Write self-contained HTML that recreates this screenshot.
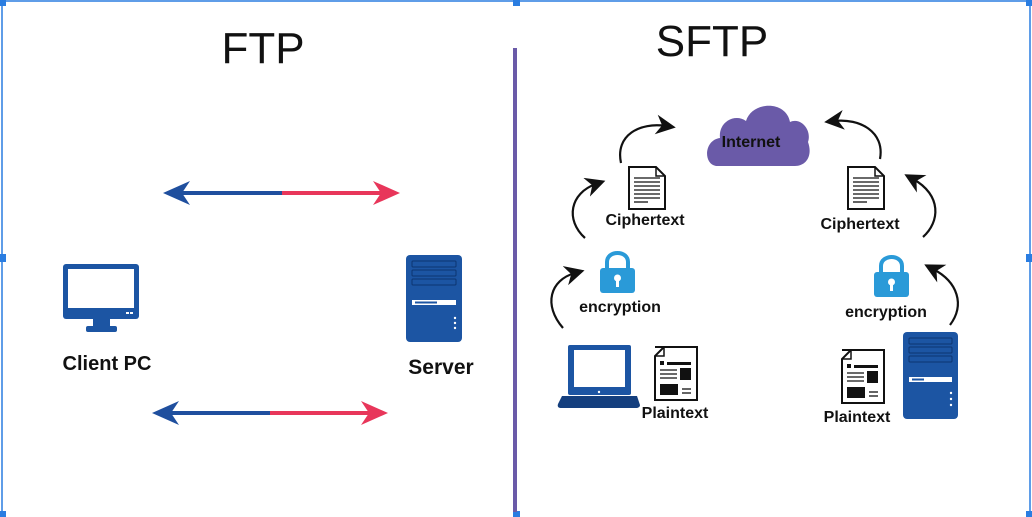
<!DOCTYPE html>
<html><head><meta charset="utf-8"><style>
html,body{margin:0;padding:0;background:#fff;}
svg{display:block;}
text{font-family:"Liberation Sans",sans-serif;fill:#111;}
.b{font-weight:bold;}
</style></head><body>
<svg width="1032" height="517" viewBox="0 0 1032 517" xmlns="http://www.w3.org/2000/svg">
<defs>
<marker id="ah" viewBox="0 0 10 10" refX="5" refY="5" markerWidth="9" markerHeight="9" orient="auto-start-reverse">
<path d="M0,0 L10,5 L0,10 L3,5 z" fill="#111"/>
</marker>
</defs>
<rect width="1032" height="517" fill="#fff"/>
<g stroke="#2a7de1" stroke-width="1.5" fill="none">
<line x1="2" y1="1" x2="1031" y2="1"/>
<line x1="2" y1="1" x2="2" y2="516"/>
<line x1="1030" y1="1" x2="1030" y2="516"/>
</g>
<g fill="#2a7de1">
<rect x="0" y="0" width="6" height="6"/><rect x="513" y="0" width="7" height="6"/><rect x="1026" y="0" width="6" height="6"/>
<rect x="0" y="254" width="6" height="8"/><rect x="1026" y="254" width="6" height="8"/>
<rect x="0" y="511" width="6" height="6"/><rect x="513" y="511" width="7" height="6"/><rect x="1026" y="511" width="6" height="6"/>
</g>
<rect x="513" y="48" width="4" height="464" fill="#6a5aa8"/>
<text x="263" y="63" font-size="44" text-anchor="middle">FTP</text>
<text x="712" y="56" font-size="44" text-anchor="middle">SFTP</text>

<g stroke-width="4">
<line x1="175" y1="193" x2="282" y2="193" stroke="#1f4f9e"/>
<line x1="282" y1="193" x2="388" y2="193" stroke="#e8365a"/>
<line x1="164" y1="413" x2="270" y2="413" stroke="#1f4f9e"/>
<line x1="270" y1="413" x2="376" y2="413" stroke="#e8365a"/>
</g>
<path d="M163,193 L190,181 L182,193 L190,205 z" fill="#1f4f9e"/>
<path d="M400,193 L373,181 L381,193 L373,205 z" fill="#e8365a"/>
<path d="M152,413 L179,401 L171,413 L179,425 z" fill="#1f4f9e"/>
<path d="M388,413 L361,401 L369,413 L361,425 z" fill="#e8365a"/>

<rect x="63" y="264" width="76" height="55" rx="3" fill="#1c55a3"/>
<rect x="68" y="269" width="66" height="39" fill="#fff"/>
<rect x="126" y="312" width="3" height="2" fill="#fff"/><rect x="130" y="312" width="3" height="2" fill="#fff"/>
<rect x="93" y="319" width="17" height="7" fill="#1c55a3"/>
<rect x="86" y="326" width="31" height="6" rx="2" fill="#1c55a3"/>
<text class="b" x="107" y="370" font-size="20" text-anchor="middle">Client PC</text>

<g transform="translate(406,255)">
<rect x="0" y="0" width="56" height="87" rx="4" fill="#1c55a3"/>
<rect x="6" y="6" width="44" height="6" rx="1" fill="none" stroke="#0d3570" stroke-width="1"/>
<rect x="6" y="15" width="44" height="6" rx="1" fill="none" stroke="#0d3570" stroke-width="1"/>
<rect x="6" y="24" width="44" height="6" rx="1" fill="none" stroke="#0d3570" stroke-width="1"/>
<rect x="6" y="45" width="44" height="5" fill="#fff"/>
<rect x="9" y="46.5" width="22" height="2" fill="#1c55a3"/>
<circle cx="49" cy="63" r="1.2" fill="#fff"/><circle cx="49" cy="68" r="1.2" fill="#fff"/><circle cx="49" cy="73" r="1.2" fill="#fff"/>
</g>
<text class="b" x="441" y="374" font-size="21" text-anchor="middle">Server</text>

<path d="M716,166 C703,164 704,140 720,138 C718,122 735,113 746,121 C752,101 786,100 790,122 C801,117 812,130 808,142 C813,156 806,166 795,166 Z" fill="#6a5aa8"/>
<text class="b" x="751" y="147" font-size="16" text-anchor="middle">Internet</text>

<g stroke="#111" stroke-width="2.2" fill="none" marker-end="url(#ah)">
<path d="M621,163 C615,135 640,122 666,126"/>
<path d="M585,238 C565,220 570,193 596,184"/>
<path d="M563,328 C543,305 550,280 575,273"/>
<path d="M880,159 C885,132 860,118 834,121"/>
<path d="M923,237 C940,222 942,195 913,179"/>
<path d="M950,325 C965,305 958,282 933,269"/>
</g>

<g id="doc">
<path d="M629,167 L656,167 L665,176 L665,209 L629,209 Z" fill="#fff" stroke="#111" stroke-width="2"/>
<path d="M656,167 L656,176 L665,176" fill="none" stroke="#111" stroke-width="1.5"/>
<g stroke="#111" stroke-width="1.3"><line x1="634" y1="178" x2="660" y2="178"/><line x1="634" y1="182" x2="660" y2="182"/><line x1="634" y1="186" x2="660" y2="186"/><line x1="634" y1="190" x2="660" y2="190"/><line x1="634" y1="194" x2="660" y2="194"/><line x1="634" y1="198" x2="660" y2="198"/><line x1="634" y1="202" x2="648" y2="202"/></g>
</g>
<use href="#doc" transform="translate(219,0)"/>
<text class="b" x="645" y="225" font-size="16" text-anchor="middle">Ciphertext</text>
<text class="b" x="860" y="229" font-size="16" text-anchor="middle">Ciphertext</text>

<g id="lock">
<path d="M607,270 L607,262 C607,250 628,250 628,262 L628,270" fill="none" stroke="#2a9ad8" stroke-width="4"/>
<rect x="600" y="268" width="35" height="25" rx="3" fill="#2a9ad8"/>
<circle cx="617.5" cy="278" r="3.5" fill="#fff"/><rect x="616" y="279" width="3" height="8" fill="#fff"/>
</g>
<use href="#lock" transform="translate(274,4)"/>
<text class="b" x="620" y="312" font-size="16" text-anchor="middle">encryption</text>
<text class="b" x="886" y="317" font-size="16" text-anchor="middle">encryption</text>

<rect x="568" y="345" width="63" height="50" rx="2" fill="#1c55a3"/>
<rect x="574" y="350" width="51" height="37" fill="#fff"/>
<circle cx="599" cy="392" r="1.2" fill="#fff"/>
<path d="M562,396 L637,396 L640,405 C640,407 638,408 636,408 L561,408 C559,408 557,407 558,404 Z" fill="#143f7e"/>

<g id="pdoc">
<path d="M655,347 L688,347 L697,347 L697,400 L655,400 L655,356 L664,347 Z" fill="#fff" stroke="#111" stroke-width="2"/>
<path d="M664,347 L664,356 L655,356" fill="none" stroke="#111" stroke-width="1.5"/>
<rect x="660" y="361" width="4" height="4" fill="#111"/><rect x="667" y="362" width="24" height="3" fill="#111"/>
<g stroke="#111" stroke-width="1.3"><line x1="660" y1="370" x2="677" y2="370"/><line x1="660" y1="374" x2="677" y2="374"/><line x1="660" y1="378" x2="677" y2="378"/><line x1="682" y1="389" x2="691" y2="389"/><line x1="682" y1="393" x2="691" y2="393"/></g>
<rect x="680" y="368" width="11" height="12" fill="#111"/>
<rect x="660" y="384" width="18" height="11" fill="#111"/>
</g>
<use href="#pdoc" transform="translate(187,3)"/>
<text class="b" x="675" y="418" font-size="16" text-anchor="middle">Plaintext</text>
<text class="b" x="857" y="422" font-size="16" text-anchor="middle">Plaintext</text>

<g transform="translate(903,332)">
<rect x="0" y="0" width="55" height="87" rx="4" fill="#1c55a3"/>
<rect x="6" y="6" width="43" height="6" rx="1" fill="none" stroke="#0d3570" stroke-width="1"/>
<rect x="6" y="15" width="43" height="6" rx="1" fill="none" stroke="#0d3570" stroke-width="1"/>
<rect x="6" y="24" width="43" height="6" rx="1" fill="none" stroke="#0d3570" stroke-width="1"/>
<rect x="6" y="45" width="43" height="5" fill="#fff"/>
<rect x="9" y="46.5" width="12" height="2" fill="#1c55a3"/>
<circle cx="48" cy="61" r="1.2" fill="#fff"/><circle cx="48" cy="67" r="1.2" fill="#fff"/><circle cx="48" cy="73" r="1.2" fill="#fff"/>
</g>
</svg>
</body></html>
